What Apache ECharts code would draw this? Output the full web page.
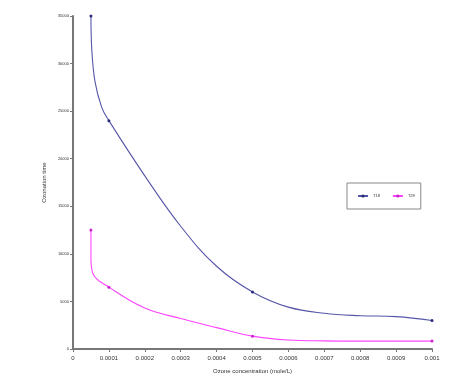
<!DOCTYPE html>
<html><head><meta charset="utf-8">
<script src="https://cdn.jsdelivr.net/npm/echarts@6/dist/echarts.min.js"></script>
<style>html,body{margin:0;padding:0;background:#fff}#c{width:474px;height:379px}</style>
</head><body><div id="c"></div>
<script>
var xTicks = [0, 0.0001, 0.0002, 0.0003, 0.0004, 0.0005, 0.0006, 0.0007, 0.0008, 0.0009, 0.001];
var seriesNames = ['T18', 'T28'];
var blueX = [0.00005, 0.000052, 0.0000613, 0.00008, 0.0001, 0.0002, 0.0003, 0.0004, 0.0005, 0.0006, 0.0007, 0.0008, 0.0009, 0.001];
var blueY = [35000, 31700, 28100, 25400, 24000, 18200, 12900, 8700, 6000, 4400, 3750, 3500, 3400, 3000];
var blueMarked = [1,0,0,0,1,0,0,0,1,0,0,0,0,1];
var pinkX = [0.00005, 0.00005, 0.000057, 0.0001, 0.0002, 0.0003, 0.0004, 0.0005, 0.0006, 0.0007, 0.0008, 0.001];
var pinkY = [12500, 9500, 7800, 6500, 4300, 3200, 2250, 1350, 940, 850, 830, 830];
var pinkMarked = [1,0,0,1,0,0,0,1,0,0,0,1];

function build(xs, ys, marks){
  return xs.map(function(x,i){
    var d = {value:[x, ys[i]]};
    if(!marks[i]) d.symbol = 'none';
    return d;
  });
}
var chart = echarts.init(document.getElementById('c'));
chart.setOption({
  animation:false,
  backgroundColor:'#fff',
  grid:{left:73, right:42, top:16, bottom:27},
  legend:{
    left:347, top:183, width:64, height:28,
    orient:'horizontal',
    borderColor:'#888', borderWidth:1, padding:[11,6,11,10],
    itemWidth:10, itemHeight:4, itemGap:12,
    textStyle:{fontSize:4, color:'#333', fontFamily:'Liberation Sans'},
    data: seriesNames
  },
  xAxis:{
    type:'value', min:0, max:0.001, interval:0.0001,
    name:'Ozone concentration (mole/L)', nameLocation:'middle', nameGap:19,
    nameTextStyle:{fontSize:6, color:'#333', fontFamily:'Liberation Sans'},
    axisLine:{lineStyle:{color:'#777', width:2}},
    axisTick:{show:true, length:3, lineStyle:{color:'#777'}},
    splitLine:{show:false},
    axisLabel:{fontSize:6, color:'#333', margin:6, fontFamily:'Liberation Sans',
      formatter:function(v){ return v===0 ? '0' : (Math.round(v*10000)/10000).toString(); }}
  },
  yAxis:{
    type:'value', min:0, max:35000, interval:5000,
    name:'Ozonation time', nameLocation:'middle', nameGap:22, nameRotate:90,
    nameTextStyle:{fontSize:6, color:'#333', fontFamily:'Liberation Sans'},
    axisLine:{show:true, lineStyle:{color:'#777', width:2}},
    axisTick:{show:true, length:3, lineStyle:{color:'#777'}},
    splitLine:{show:false},
    axisLabel:{fontSize:4, color:'#333', margin:4, fontFamily:'Liberation Sans',
      formatter:function(v){ return String(v); }}
  },
  series:[
    {name:seriesNames[0], type:'line', smooth:0.4, symbol:'circle', symbolSize:3,
     showAllSymbol:true,
     itemStyle:{color:'#2a2a7a'}, lineStyle:{color:'#5555aa', width:1.1},
     data: build(blueX, blueY, blueMarked)},
    {name:seriesNames[1], type:'line', smooth:0.4, symbol:'circle', symbolSize:3,
     showAllSymbol:true,
     itemStyle:{color:'#cc22cc'}, lineStyle:{color:'#ff44ff', width:1.1},
     data: build(pinkX, pinkY, pinkMarked)}
  ]
});
</script></body></html>
